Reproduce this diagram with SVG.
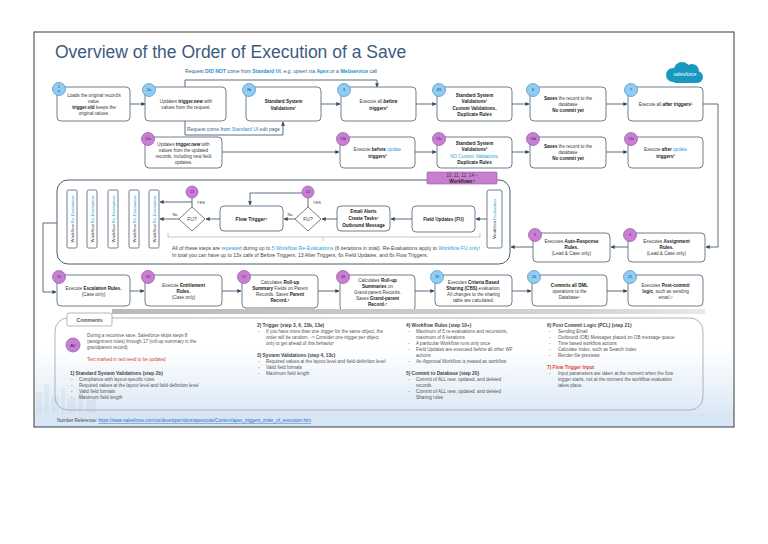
<svg xmlns="http://www.w3.org/2000/svg" width="768" height="544" viewBox="0 0 768 544">
<defs>
<marker id="ah" viewBox="0 0 6 6" refX="5.5" refY="3" markerWidth="4" markerHeight="4" orient="auto" markerUnits="userSpaceOnUse"><path d="M0,0 L6,3 L0,6 z" fill="#34495e"/></marker>
<linearGradient id="bg" x1="0" y1="0" x2="0" y2="1"><stop offset="0" stop-color="#ffffff"/><stop offset="1" stop-color="#d3e4f3"/></linearGradient>
<linearGradient id="bar" x1="0" y1="0" x2="1" y2="0"><stop offset="0" stop-color="#b9b9b9"/><stop offset="0.8" stop-color="#d4d4d4"/><stop offset="1" stop-color="#e8e8e8"/></linearGradient>
</defs>
<style>
.f{font-family:"Liberation Sans",Arial,"DejaVu Sans",sans-serif}
.box{fill:#fff;stroke:#4d5d6e;stroke-width:0.8}
.t{font-size:4.6px;fill:#3a3a3a;text-anchor:middle}
.b{font-weight:bold;fill:#222}
.bl{fill:#2a9fd6}
.bb{fill:#8fcdf2;stroke:#3f8fc9;stroke-width:0.7}
.pb{fill:#c77fd3;stroke:#9a4caf;stroke-width:0.7}
.bt{font-size:3.6px;fill:#1d2b3a;text-anchor:middle}
.con{fill:none;stroke:#34495e;stroke-width:0.8}
.c{font-size:4.6px;fill:#555}
.ch{font-size:4.8px;fill:#444;font-weight:bold}
.red{fill:#d9452b}
.lbl{font-size:4.6px;fill:#2b5f8a}
.vt{font-size:4.4px;fill:#333;text-anchor:middle}
.loopt{font-size:4.7px;fill:#444}
</style>
<g class="f">
<!-- slide background -->
<rect x="34" y="32" width="700" height="395" fill="#fff"/>
<rect x="34" y="350" width="700" height="77" fill="url(#bg)"/>
<g fill="#b8c9d8" opacity="0.22">
<rect x="36" y="392" width="6" height="21"/><rect x="44" y="384" width="5" height="29"/><rect x="51" y="396" width="8" height="17"/><rect x="61" y="388" width="4" height="25"/><rect x="67" y="398" width="9" height="15"/><rect x="78" y="393" width="5" height="20"/><rect x="86" y="400" width="10" height="13"/>
</g>
<rect x="34" y="413" width="700" height="14" fill="#d6e6f4"/>
<rect x="34" y="32" width="700" height="395" fill="none" stroke="#3a3a3a" stroke-width="1"/>

<text x="55" y="58" font-size="17.5" fill="#3b5b7e">Overview of the Order of Execution of a Save</text>

<!-- salesforce logo -->
<g fill="#1798c1">
<circle cx="673" cy="75" r="7"/><circle cx="682" cy="70" r="8"/><circle cx="692" cy="71" r="7"/><circle cx="697" cy="77" r="6"/><rect x="673" y="74" width="24" height="9" rx="3"/>
</g>
<text x="685" y="76" font-size="5" fill="#fff" text-anchor="middle" font-style="italic">salesforce</text>

<!-- connectors -->
<g id="connectors">
<path class="con" d="M130,104 H145" marker-end="url(#ah)"/>
<path class="con" d="M185,87 V80 H377 V87" marker-end="url(#ah)"/>
<path class="con" d="M185,121 V135 H283 V122" marker-end="url(#ah)"/>
<path class="con" d="M321,104 H340" marker-end="url(#ah)"/>
<path class="con" d="M416,104 H436" marker-end="url(#ah)"/>
<path class="con" d="M512,104 H529" marker-end="url(#ah)"/>
<path class="con" d="M606,104 H627" marker-end="url(#ah)"/>
<path class="con" d="M703,104 H718 V247 H706" marker-end="url(#ah)"/>
<path class="con" d="M222,152 H339" marker-end="url(#ah)"/>
<path class="con" d="M415,152 H436" marker-end="url(#ah)"/>
<path class="con" d="M512,152 H529" marker-end="url(#ah)"/>
<path class="con" d="M606,152 H627" marker-end="url(#ah)"/>
<path class="con" d="M628,247 H611" marker-end="url(#ah)"/>
<path class="con" d="M533,247 H511" marker-end="url(#ah)"/>
<path class="con" d="M487,219 H476" marker-end="url(#ah)"/>
<path class="con" d="M412,219 H391" marker-end="url(#ah)"/>
<path class="con" d="M337,219 H322" marker-end="url(#ah)"/>
<path class="con" d="M295,219 H284" marker-end="url(#ah)"/>
<path class="con" d="M308,207 V198"/>
<path class="con" d="M302,193 H250 V205" marker-end="url(#ah)"/>
<path class="con" d="M220,219 H206" marker-end="url(#ah)"/>
<path class="con" d="M179,219 H160" marker-end="url(#ah)"/>
<path class="con" d="M192,207 V198"/>
<path class="con" d="M192,202 H160" marker-end="url(#ah)"/>
<path class="con" d="M57,223 H43 V292 H56" marker-end="url(#ah)"/>
<path class="con" d="M130,291 H144" marker-end="url(#ah)"/>
<path class="con" d="M222,291 H241" marker-end="url(#ah)"/>
<path class="con" d="M318,291 H339" marker-end="url(#ah)"/>
<path class="con" d="M415,291 H434" marker-end="url(#ah)"/>
<path class="con" d="M512,291 H531" marker-end="url(#ah)"/>
<path class="con" d="M607,291 H627" marker-end="url(#ah)"/>
</g>

<!-- connector labels -->
<text class="lbl" x="185" y="73" textLength="192" lengthAdjust="spacingAndGlyphs">Request <tspan font-weight="bold" style="fill:#1a8fd0">DID NOT</tspan> come from <tspan font-weight="bold" style="fill:#1a8fd0">Standard UI</tspan>, e.g. upsert via <tspan font-weight="bold" style="fill:#1a8fd0">Apex</tspan> or a <tspan font-weight="bold" style="fill:#1a8fd0">Webservice</tspan> call</text>
<text class="lbl" x="187" y="131" textLength="93" lengthAdjust="spacingAndGlyphs">Request come from <tspan style="fill:#1a8fd0">Standard UI</tspan> edit page</text>

<!-- Row 1 -->
<g id="n1"><rect class="box" x="57" y="87" width="73" height="34" rx="4"/>
<text class="t" x="94" y="97">Loads the original record's</text><text class="t" x="94" y="103">value.</text><text class="t" x="94" y="109"><tspan class="b">trigger.old</tspan> keeps the</text><text class="t" x="94" y="115">original values.</text>
<circle class="bb" cx="59" cy="89" r="6.5"/><text class="bt" x="59" y="88">1</text><text class="bt" x="59" y="92">a</text></g>

<g id="n2a"><rect class="box" x="145" y="87" width="81" height="34" rx="4"/>
<text class="t" x="186" y="103"><tspan>Updates </tspan><tspan class="b">trigger.new</tspan><tspan> with</tspan></text><text class="t" x="186" y="109">values from the request.</text>
<circle class="bb" cx="149" cy="90" r="6.5"/><text class="bt" x="149" y="91.3">2a</text></g>

<g id="n2b"><rect class="box" x="246" y="87" width="75" height="34" rx="4"/>
<text class="t b" x="283.5" y="102.5">Standard System</text><text class="t b" x="283.5" y="109.5">Validations¹</text>
<circle class="bb" cx="249" cy="90" r="6.5"/><text class="bt" x="249" y="91.3">2b</text></g>

<g id="n3"><rect class="box" x="341" y="87" width="75" height="34" rx="4"/>
<text class="t" x="378.5" y="102.5">Execute all <tspan class="b" font-style="italic">before</tspan></text><text class="t b" x="378.5" y="109.5">triggers²</text>
<circle class="bb" cx="344" cy="90" r="6.5"/><text class="bt" x="344" y="91.3">3</text></g>

<g id="n45"><rect class="box" x="437" y="87" width="75" height="34" rx="4"/>
<text class="t b" x="474.5" y="96.5">Standard System</text><text class="t b" x="474.5" y="103">Validations¹</text><text class="t b" x="474.5" y="109.5">Custom Validations,</text><text class="t b" x="474.5" y="116">Duplicate Rules</text>
<circle class="bb" cx="439" cy="90" r="6.5"/><text class="bt" x="439" y="91.3">4/5</text></g>

<g id="n6"><rect class="box" x="530" y="87" width="76" height="34" rx="4"/>
<text class="t" x="568" y="99.5"><tspan class="b">Saves</tspan> the record to the</text><text class="t" x="568" y="105.5">database</text><text class="t b" x="568" y="111.5">No commit yet</text>
<circle class="bb" cx="533" cy="90" r="6.5"/><text class="bt" x="533" y="91.3">6</text></g>

<g id="n7"><rect class="box" x="628" y="87" width="75" height="34" rx="4"/>
<text class="t" x="665.5" y="106">Execute all <tspan class="b" font-style="italic">after triggers</tspan>²</text>
<circle class="bb" cx="631" cy="90" r="6.5"/><text class="bt" x="631" y="91.3">7</text></g>

<!-- Row 2 -->
<g id="n13a"><rect class="box" x="145" y="137" width="77" height="31" rx="4"/>
<text class="t" x="183.5" y="145.5">Updates <tspan class="b">trigger.new</tspan> with</text><text class="t" x="183.5" y="151.5">values from the updated</text><text class="t" x="183.5" y="157.5">records, including new field</text><text class="t" x="183.5" y="163.5">updates.</text>
<circle class="pb" cx="148" cy="139" r="6.5"/><text class="bt" x="148" y="140.3">13a</text></g>

<g id="n13b"><rect class="box" x="340" y="137" width="75" height="31" rx="4"/>
<text class="t" x="377.5" y="151">Execute <tspan class="b">before</tspan> <tspan class="bl">update</tspan></text><text class="t b" x="377.5" y="158">triggers²</text>
<circle class="pb" cx="343" cy="139" r="6.5"/><text class="bt" x="343" y="140.3">13b</text></g>

<g id="n13c"><rect class="box" x="437" y="137" width="75" height="31" rx="4"/>
<text class="t b" x="474.5" y="144.5">Standard System</text><text class="t b" x="474.5" y="151">Validations³</text><text class="t bl" x="474.5" y="157.5">NO Custom Validations,</text><text class="t b" x="474.5" y="164">Duplicate Rules</text>
<circle class="pb" cx="439" cy="139" r="6.5"/><text class="bt" x="439" y="140.3">13c</text></g>

<g id="n13d"><rect class="box" x="530" y="137" width="76" height="31" rx="4"/>
<text class="t" x="568" y="148"><tspan class="b">Saves</tspan> the record to the</text><text class="t" x="568" y="154">database</text><text class="t b" x="568" y="160">No commit yet</text>
<circle class="pb" cx="533" cy="139" r="6.5"/><text class="bt" x="533" y="140.3">13d</text></g>

<g id="n13e"><rect class="box" x="628" y="137" width="75" height="31" rx="4"/>
<text class="t" x="665.5" y="151">Execute <tspan class="b">after</tspan> <tspan class="bl">update</tspan></text><text class="t b" x="665.5" y="158">triggers²</text>
<circle class="pb" cx="631" cy="139" r="6.5"/><text class="bt" x="631" y="140.3">13e</text></g>

<!-- Workflow loop -->
<g id="workflow-loop">
<rect x="57" y="180" width="453" height="84" rx="11" fill="none" stroke="#4d5d6e" stroke-width="1"/>
<rect x="427" y="172" width="70" height="12" rx="1" fill="#c97fd0" stroke="#9a4caf" stroke-width="0.6"/>
<text class="t" x="462" y="177.3">10, 11, 12, 14 –</text><text class="t b" x="462" y="182.5">Workflows⁴</text>
<path d="M168,233 V237 H480 V233 M323,237 V241" fill="none" stroke="#9aa4ad" stroke-width="0.6"/>
<text class="loopt" x="172" y="250" textLength="308" lengthAdjust="spacingAndGlyphs">All of these steps are <tspan class="bl">repeated</tspan> during up to <tspan class="bl">5 Workflow Re-Evaluations</tspan> (6 iterations in total). Re-Evaluations apply to <tspan class="bl">Workflow FU only!</tspan></text>
<text class="loopt bl" x="172" y="257" textLength="256" lengthAdjust="spacingAndGlyphs">In total you can have up to 13x calls of Before Triggers, 13 After Triggers, 6x Field Updates, and 6x Flow Triggers.</text>
</g>

<g id="wfre1"><rect class="box" x="67" y="190" width="10" height="58" rx="1.5"/><text class="vt" transform="translate(73.5,219) rotate(-90)">Workflow <tspan class="bl">Re-Evaluation</tspan></text></g>
<g id="wfre2"><rect class="box" x="87" y="190" width="10" height="58" rx="1.5"/><text class="vt" transform="translate(93.5,219) rotate(-90)">Workflow <tspan class="bl">Re-Evaluation</tspan></text></g>
<g id="wfre3"><rect class="box" x="108" y="190" width="10" height="58" rx="1.5"/><text class="vt" transform="translate(114.5,219) rotate(-90)">Workflow <tspan class="bl">Re-Evaluation</tspan></text></g>
<g id="wfre4"><rect class="box" x="129" y="190" width="10" height="58" rx="1.5"/><text class="vt" transform="translate(135.5,219) rotate(-90)">Workflow <tspan class="bl">Re-Evaluation</tspan></text></g>
<g id="wfre5"><rect class="box" x="149" y="190" width="10" height="58" rx="1.5"/><text class="vt" transform="translate(155.5,219) rotate(-90)">Workflow <tspan class="bl">Re-Evaluation</tspan></text></g>

<g id="fu1"><polygon class="box" points="192,207 205,219 192,231 179,219"/><text class="t" x="192" y="220.8" style="font-size:5px">FU?</text>
<text class="t" x="175" y="216" style="font-size:4px">No</text><text class="t" x="201" y="203.5" style="font-size:4px">YES</text></g>
<g id="b13a"><circle class="pb" cx="192" cy="192" r="6"/><text class="bt" x="192" y="193.3">13</text></g>

<g id="flowtrigger"><rect class="box" x="220" y="206" width="63" height="25" rx="4"/><text class="t b" x="251.5" y="220.5" style="font-size:5px">Flow Trigger⁷</text></g>

<g id="fu2"><polygon class="box" points="308,207 321,219 308,231 295,219"/><text class="t" x="308" y="220.8" style="font-size:5px">FU?</text>
<text class="t" x="290" y="216" style="font-size:4px">No</text><text class="t" x="317" y="203.5" style="font-size:4px">YES</text></g>
<g id="b13b"><circle class="pb" cx="308" cy="192" r="6"/><text class="bt" x="308" y="193.3">13</text></g>

<g id="email"><rect class="box" x="337" y="206" width="53" height="25" rx="4"/>
<text class="t b" x="363.5" y="213">Email Alerts</text><text class="t b" x="363.5" y="220">Create Tasks⁷</text><text class="t b" x="363.5" y="227">Outbound Message</text></g>

<g id="fieldupdates"><rect class="box" x="412" y="206" width="63" height="26" rx="4"/><text class="t b" x="443.5" y="220.5">Field Updates (FU)</text></g>

<g id="wfeval"><rect class="box" x="487" y="190" width="15" height="58" rx="2"/><text class="vt" transform="translate(496,219) rotate(-90)">Workflow <tspan class="bl">Evaluation</tspan></text></g>

<!-- Row 3 right -->
<g id="n5"><rect class="box" x="533" y="233" width="77" height="29" rx="4"/>
<text class="t" x="571.5" y="242.5">Executes <tspan class="b">Auto-Response</tspan></text><text class="t b" x="571.5" y="248.5">Rules.</text><text class="t" x="571.5" y="254.5">(Lead &amp; Case only)</text>
<circle class="pb" cx="535" cy="235" r="6.5"/><text class="bt" x="535" y="236.3">5</text></g>

<g id="n4"><rect class="box" x="628" y="233" width="77" height="29" rx="4"/>
<text class="t" x="666.5" y="242.5">Executes <tspan class="b">Assignment</tspan></text><text class="t b" x="666.5" y="248.5">Rules.</text><text class="t" x="666.5" y="254.5">(Lead &amp; Case only)</text>
<circle class="pb" cx="630" cy="235" r="6.5"/><text class="bt" x="630" y="236.3">4</text></g>

<!-- Row 4 -->
<g id="n15"><rect class="box" x="57" y="275" width="73" height="31" rx="4"/>
<text class="t" x="93.5" y="290">Execute <tspan class="b">Escalation Rules.</tspan></text><text class="t" x="93.5" y="296">(Case only)</text>
<circle class="pb" cx="59" cy="277" r="6.5"/><text class="bt" x="59" y="278.3">15</text></g>

<g id="n16"><rect class="box" x="145" y="275" width="77" height="31" rx="4"/>
<text class="t" x="183.5" y="286.5">Execute <tspan class="b">Entitlement</tspan></text><text class="t b" x="183.5" y="292.5">Rules.</text><text class="t" x="183.5" y="298.5">(Case only)</text>
<circle class="pb" cx="148" cy="277" r="6.5"/><text class="bt" x="148" y="278.3">16</text></g>

<g id="n17"><rect class="box" x="242" y="275" width="76" height="33" rx="4"/>
<text class="t" x="280" y="284">Calculates <tspan class="b">Roll-up</tspan></text><text class="t" x="280" y="290"><tspan class="b">Summary</tspan> Fields on Parent</text><text class="t" x="280" y="296">Records. Saves <tspan class="b">Parent</tspan></text><text class="t b" x="280" y="302">Record.⁷</text>
<circle class="pb" cx="244" cy="277" r="6.5"/><text class="bt" x="244" y="278.3">17</text></g>

<g id="n18"><rect class="box" x="340" y="275" width="75" height="36" rx="4"/>
<text class="t" x="377.5" y="282">Calculates <tspan class="b">Roll-up</tspan></text><text class="t" x="377.5" y="288"><tspan class="b">Summaries</tspan> on</text><text class="t" x="377.5" y="294">Grand-parent Records.</text><text class="t" x="377.5" y="300">Saves <tspan class="b">Grand-parent</tspan></text><text class="t b" x="377.5" y="306">Record.⁷</text>
<circle class="pb" cx="343" cy="277" r="6.5"/><text class="bt" x="343" y="278.3">18</text></g>

<g id="n19"><rect class="box" x="435" y="275" width="77" height="31" rx="4"/>
<text class="t" x="473.5" y="284">Executes <tspan class="b">Criteria Based</tspan></text><text class="t" x="473.5" y="290"><tspan class="b">Sharing (CBS)</tspan> evaluation.</text><text class="t" x="473.5" y="296">All changes to the sharing</text><text class="t" x="473.5" y="302">table are calculated.</text>
<circle class="bb" cx="437" cy="277" r="6.5"/><text class="bt" x="437" y="278.3">19</text></g>

<g id="n20"><rect class="box" x="532" y="275" width="75" height="31" rx="4"/>
<text class="t b" x="569.5" y="287">Commits all DML</text><text class="t" x="569.5" y="293">operations to the</text><text class="t" x="569.5" y="299">Database⁵</text>
<circle class="bb" cx="534" cy="277" r="6.5"/><text class="bt" x="534" y="278.3">20</text></g>

<g id="n21"><rect class="box" x="628" y="275" width="75" height="31" rx="4"/>
<text class="t" x="665.5" y="287">Executes <tspan class="b">Post-commit</tspan></text><text class="t" x="665.5" y="293"><tspan class="b">logic</tspan>, such as sending</text><text class="t" x="665.5" y="299">email.⁶</text>
<circle class="bb" cx="630" cy="277" r="6.5"/><text class="bt" x="630" y="278.3">21</text></g>

<!-- Comments -->
<g id="comments">
<rect x="112" y="309" width="593" height="5" fill="url(#bar)"/>
<rect x="55" y="318" width="648" height="92" rx="13" fill="none" stroke="#a9a9a9" stroke-width="0.9"/>
<rect x="67" y="313" width="45" height="13" rx="2" fill="#fff" stroke="#999" stroke-width="0.7"/>
<text x="89.5" y="321.5" font-size="5" font-weight="bold" fill="#555" text-anchor="middle">Comments</text>
<circle class="pb" cx="73" cy="345" r="7"/><text class="bt" x="73" y="346.5" style="font-size:4.2px">AV</text>
<text class="c" x="87" y="337">During a recursive save, Salesforce skips steps 8</text>
<text class="c" x="87" y="343">(assignment rules) through 17 (roll-up summary in the</text>
<text class="c" x="87" y="349">grandparent record).</text>
<text class="c red" x="87" y="361">Text marked in red need to be updated</text>
<text class="ch" x="70" y="375">1) Standard System Validations (step 2b)</text>
<text class="c" x="71" y="381">-</text><text class="c" x="79" y="381">Compliance with layout-specific rules</text>
<text class="c" x="71" y="387">-</text><text class="c" x="79" y="387">Required values at the layout level and field-definition level</text>
<text class="c" x="71" y="393">-</text><text class="c" x="79" y="393">Valid field formats</text>
<text class="c" x="71" y="399">-</text><text class="c" x="79" y="399">Maximum field length</text>

<text class="ch" x="257" y="327">2) Trigger (step 3, 6, 13b, 13e)</text>
<text class="c" x="258" y="333">-</text><text class="c" x="266" y="333">If you have more than one trigger for the same object, the</text>
<text class="c" x="266" y="339">order will be random. -&gt; Consider one trigger per object</text>
<text class="c" x="266" y="345">only to get ahead of this behavior</text>
<text class="ch" x="257" y="357">3)  System Validations (step 4, 13c)</text>
<text class="c" x="258" y="363">-</text><text class="c" x="266" y="363">Required values at the layout level and field-definition level</text>
<text class="c" x="258" y="369">-</text><text class="c" x="266" y="369">Valid field formats</text>
<text class="c" x="258" y="375">-</text><text class="c" x="266" y="375">Maximum field length</text>

<text class="ch" x="406" y="327">4) Workflow Rules (step 10+)</text>
<text class="c" x="408" y="333">-</text><text class="c" x="416" y="333">Maximum of 5 re-evaluations and recursions,</text>
<text class="c" x="416" y="339">maximum of 6 iterations</text>
<text class="c" x="408" y="345">-</text><text class="c" x="416" y="345">A particular Workflow runs only once</text>
<text class="c" x="408" y="351">-</text><text class="c" x="416" y="351">Field Updates are executed before all other WF</text>
<text class="c" x="416" y="357">actions</text>
<text class="c" x="408" y="363">-</text><text class="c" x="416" y="363">An Approval Workflow is treated as workflow</text>
<text class="ch" x="406" y="375">5) Commit to Database (step 20)</text>
<text class="c" x="408" y="381">-</text><text class="c" x="416" y="381">Commit of ALL new, updated, and deleted</text>
<text class="c" x="416" y="387">records</text>
<text class="c" x="408" y="393">-</text><text class="c" x="416" y="393">Commit of ALL new, updated, and deleted</text>
<text class="c" x="416" y="399">Sharing rules</text>

<text class="ch" x="547" y="327">6) Post Commit Logic (PCL) (step 21)</text>
<text class="c" x="549" y="333">-</text><text class="c" x="558" y="333">Sending Email</text>
<text class="c" x="549" y="339">-</text><text class="c" x="558" y="339">Outbound (OB) Messages placed on OB message queue</text>
<text class="c" x="549" y="345">-</text><text class="c" x="558" y="345">Time based workflow actions</text>
<text class="c" x="549" y="351">-</text><text class="c" x="558" y="351">Calculate Index, such as Search Index</text>
<text class="c" x="549" y="357">-</text><text class="c" x="558" y="357">Render file previews</text>
<text class="ch red" x="547" y="369">7) Flow Trigger Input</text>
<text class="c" x="549" y="375">-</text><text class="c" x="558" y="375">Input parameters are taken at the moment when the flow</text>
<text class="c" x="558" y="381">trigger starts, not at the moment the workflow evaluation</text>
<text class="c" x="558" y="387">takes place.</text>
</g>

<text class="c" x="57" y="422" style="fill:#444">Number Reference: <tspan style="fill:#2f6fc4" text-decoration="underline">https://www.salesforce.com/us/developer/docs/apexcode/Content/apex_triggers_order_of_execution.htm</tspan></text>
</g>
</svg>
